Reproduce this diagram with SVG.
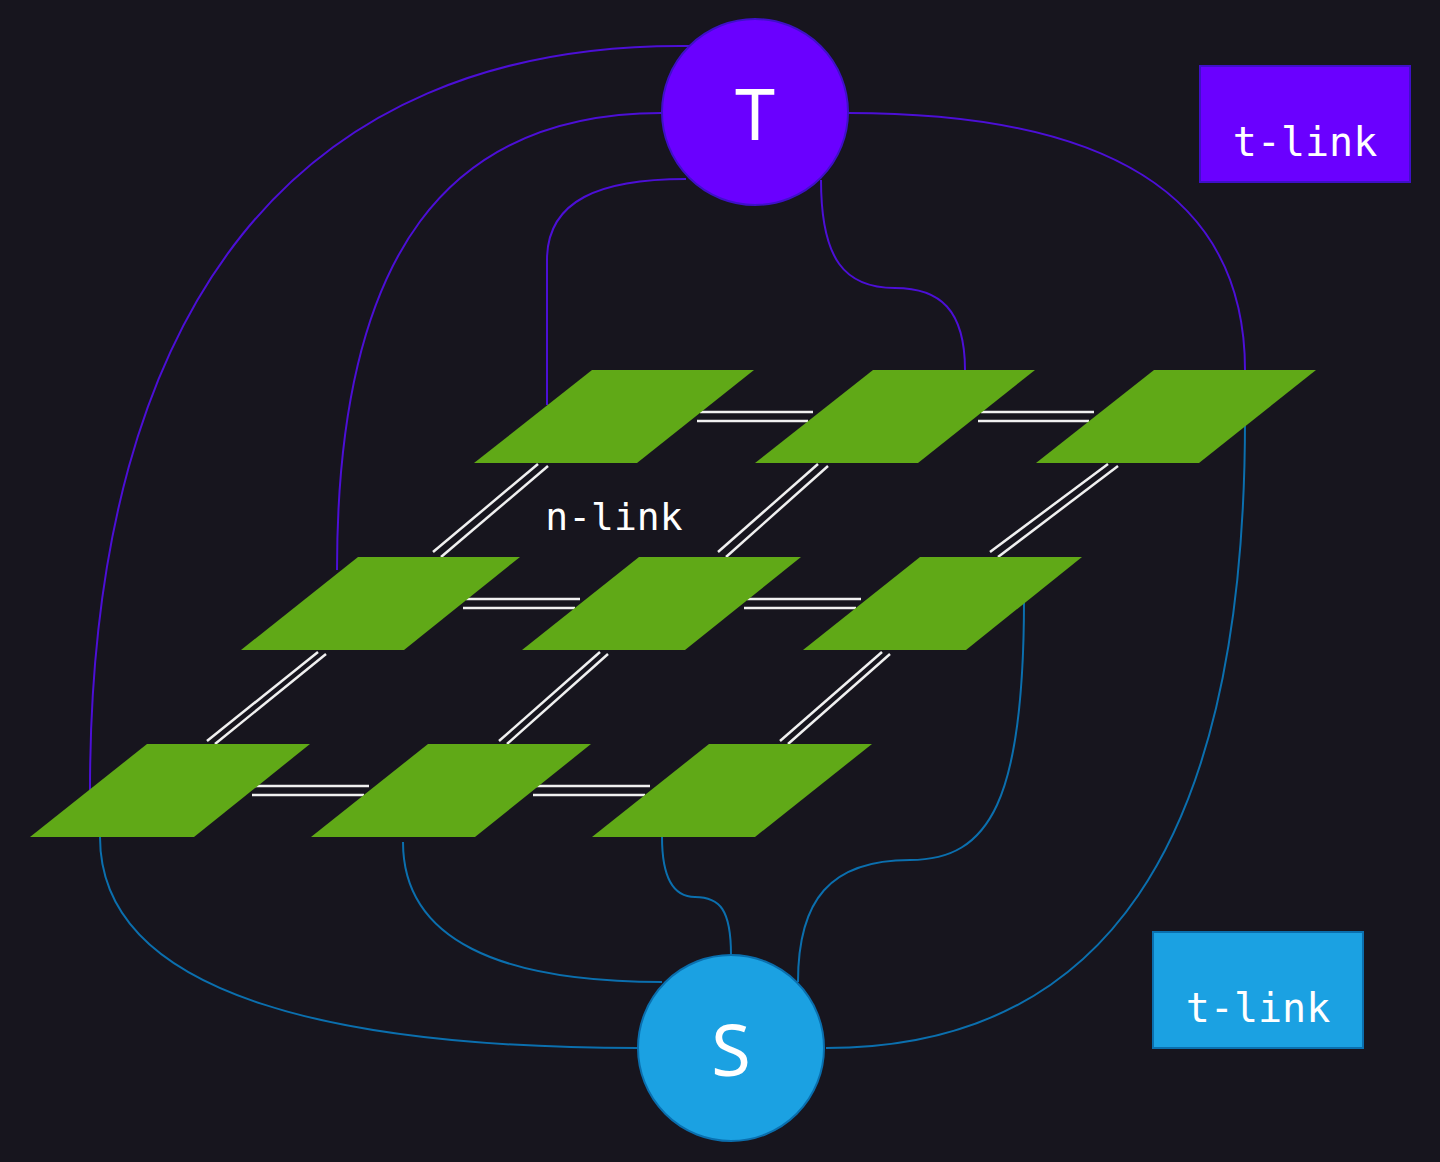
<svg xmlns="http://www.w3.org/2000/svg" width="1440" height="1162" viewBox="0 0 1440 1162">
<style>
.p{fill:#60a917}
.tl{fill:none;stroke:#4c0fd6;stroke-width:2}
.sl{fill:none;stroke:#0b6fae;stroke-width:2}
.n line{stroke:#f0f0f0;stroke-width:2.5}
.mono{font-family:"DejaVu Sans Mono",monospace;fill:#fff}
.big{font-family:"Noto Sans","DejaVu Sans",sans-serif;fill:#fff;font-size:72px;text-anchor:middle}
</style>
<rect width="1440" height="1162" fill="#17151e"/>
<g id="connectors">
<path class="tl" d="M690,46 L680,46 C300,46 90,300 90,790"/>
<path class="tl" d="M662,113 C450,113 337,250 337,570"/>
<path class="tl" d="M686,179 C600,179 547,200 547,260 L547,405"/>
<path class="tl" d="M821,180 C821,260 845,288 895,288 C940,288 965,310 965,370"/>
<path class="tl" d="M848,113 C1100,113 1245,190 1245,370 L1245,420"/>
<path class="sl" d="M1245,420 C1245,850 1100,1048 826,1048"/>
<path class="sl" d="M100,837 C100,1000 350,1048 638,1048"/>
<path class="sl" d="M403,842 C403,940 500,982 662,982"/>
<path class="sl" d="M662,837 C662,880 675,897 695,897 C720,897 731,910 731,955"/>
<path class="sl" d="M1024,600 C1024,800 990,860 910,860 C830,860 798,900 798,982"/>
<g class="n">
<line x1="700" y1="412" x2="813" y2="412"/><line x1="697" y1="421" x2="808" y2="421"/>
<line x1="981" y1="412" x2="1094" y2="412"/><line x1="978" y1="421" x2="1089" y2="421"/>
<line x1="466" y1="599" x2="580" y2="599"/><line x1="463" y1="608" x2="575" y2="608"/>
<line x1="747" y1="599" x2="861" y2="599"/><line x1="744" y1="608" x2="856" y2="608"/>
<line x1="255" y1="786" x2="369" y2="786"/><line x1="252" y1="795" x2="364" y2="795"/>
<line x1="536" y1="786" x2="650" y2="786"/><line x1="533" y1="795" x2="645" y2="795"/>
<line x1="538" y1="464" x2="433" y2="552"/><line x1="548" y1="466" x2="441" y2="557"/>
<line x1="818" y1="464" x2="718" y2="552"/><line x1="828" y1="466" x2="726" y2="557"/>
<line x1="1108" y1="464" x2="990" y2="552"/><line x1="1118" y1="466" x2="998" y2="557"/>
<line x1="318" y1="652" x2="207" y2="741"/><line x1="326" y1="654" x2="215" y2="744"/>
<line x1="600" y1="652" x2="499" y2="741"/><line x1="608" y1="654" x2="507" y2="744"/>
<line x1="882" y1="652" x2="780" y2="741"/><line x1="890" y1="654" x2="788" y2="744"/>
</g>
</g>
<g id="p00"><polygon class="p" points="592,370 754,370 637,463 474,463"/></g>
<g id="p01"><polygon class="p" points="873,370 1035,370 918,463 755,463"/></g>
<g id="p02"><polygon class="p" points="1154,370 1316,370 1199,463 1036,463"/></g>
<g id="p10"><polygon class="p" points="358,557 520,557 404,650 241,650"/></g>
<g id="p11"><polygon class="p" points="639,557 801,557 685,650 522,650"/></g>
<g id="p12"><polygon class="p" points="920,557 1082,557 966,650 803,650"/></g>
<g id="p20"><polygon class="p" points="147,744 310,744 194,837 30,837"/></g>
<g id="p21"><polygon class="p" points="428,744 591,744 475,837 311,837"/></g>
<g id="p22"><polygon class="p" points="709,744 872,744 755,837 592,837"/></g>
<g id="nlabel"><text class="mono" x="614" y="530" font-size="38" text-anchor="middle" fill="#eee">n-link</text></g>
<g id="T"><circle cx="755" cy="112" r="93" fill="#6a00ff" stroke="#3f10c8" stroke-width="2"/><text class="big" x="755" y="140">T</text></g>
<g id="S"><circle cx="731" cy="1048" r="93" fill="#1ba1e2" stroke="#0a6fae" stroke-width="2"/><text class="big" x="731" y="1076">S</text></g>
<g id="legendT"><rect x="1200" y="66" width="210" height="116" fill="#6a00ff" stroke="#3f10c8" stroke-width="2"/><text class="mono" x="1305" y="156" font-size="40" text-anchor="middle">t-link</text></g>
<g id="legendS"><rect x="1153" y="932" width="210" height="116" fill="#1ba1e2" stroke="#0a6fae" stroke-width="2"/><text class="mono" x="1258" y="1022" font-size="40" text-anchor="middle">t-link</text></g>
</svg>
